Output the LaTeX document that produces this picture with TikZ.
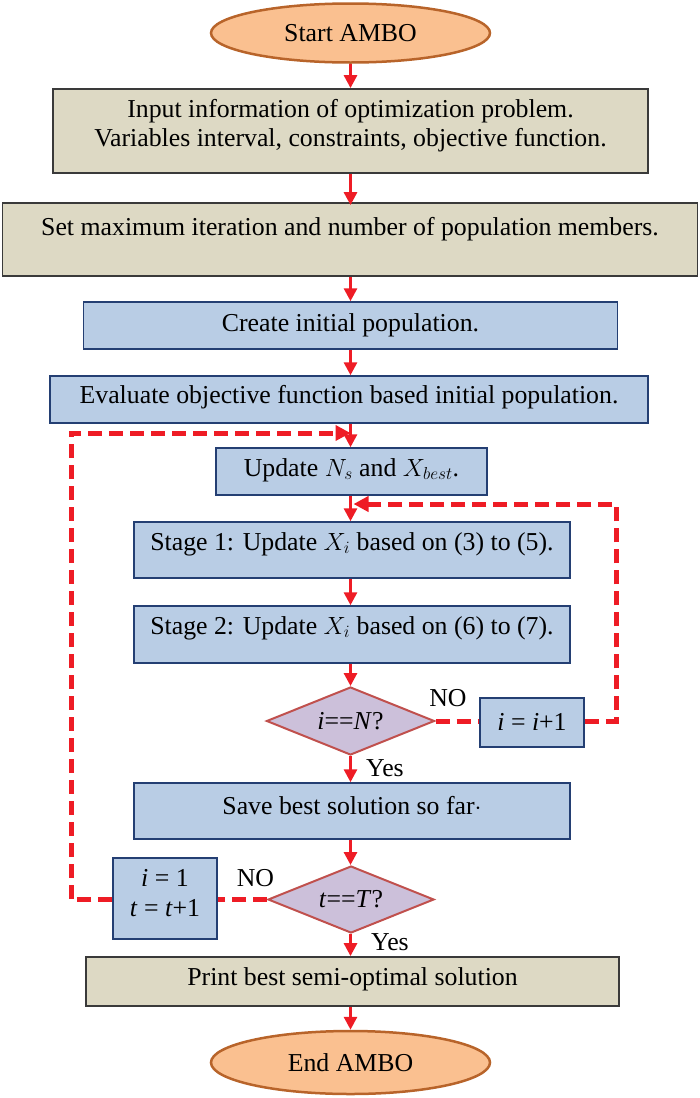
\documentclass[tikz,border=0pt]{standalone}
\usepackage{fontspec}
\setmainfont{Liberation Serif}
\usetikzlibrary{shapes.geometric,arrows.meta}
\definecolor{arrowred}{HTML}{EE1C25}
\definecolor{grayfill}{HTML}{DDD9C4}
\definecolor{grayedge}{HTML}{3A3A3A}
\definecolor{bluefill}{HTML}{B9CDE5}
\definecolor{blueedge}{HTML}{243F73}
\definecolor{startfill}{HTML}{FAC090}
\definecolor{startedge}{HTML}{B8642A}
\definecolor{diafill}{HTML}{CCC0DA}
\definecolor{diaedge}{HTML}{C0504D}
\begin{document}
\begin{tikzpicture}[x=1pt,y=-1pt,
  font=\fontsize{25.8}{29.4}\selectfont,
  terminal/.style={ellipse, draw=startedge, fill=startfill, line width=2.5pt, inner sep=0pt},
  graybox/.style={rectangle, draw=grayedge, fill=grayfill, line width=1.8pt, inner xsep=0pt, inner ysep=0pt},
  bluebox/.style={rectangle, draw=blueedge, fill=bluefill, line width=1.5pt, inner xsep=0pt, inner ysep=0pt},
  decision/.style={diamond, draw=diaedge, fill=diafill, line width=2pt, inner sep=0pt, aspect=2.5},
  th/.style 2 args={text height=#1pt, text depth=#2pt},
  flow/.style={draw=arrowred, line width=3pt, -{Triangle[length=13pt,width=13pt]}},
  loopline/.style={draw=arrowred, line width=5pt, dash pattern=on 14pt off 7pt},
  looparrow/.style={loopline, -{Triangle[length=15pt,width=15pt]}},
  lbl/.style={anchor=base, inner sep=0pt}
]
\useasboundingbox (0,0) rectangle (700,1098);

% main column
\node[terminal, minimum width=279pt, minimum height=59pt] (start) at (350.5,33) {Start AMBO};
\node[graybox, minimum width=595pt, minimum height=84pt] (input) at (350.5,131) {};
\node[lbl] (in1) at (350.5,117.3) {Input information of optimization problem.};
\node[lbl] (in2) at (350.5,146.7) {Variables interval, constraints, objective function.};
\node[graybox, minimum width=695pt, th={32}{41}] (set) at (350,239.5) {Set maximum iteration and number of population members.};
\node[bluebox, minimum width=534pt, th={29}{18}] (create) at (350.5,325.5) {Create initial population.};
\node[bluebox, minimum width=598pt, th={27}{20}] (eval) at (349,399.5) {Evaluate objective function based initial population.};
\node[bluebox, minimum width=271pt, th={28}{19}] (update) at (351.5,471.5) {Update $N_s$ and $X_{best}$.};
\node[bluebox, minimum width=436pt, th={28}{28}] (stage1) at (352,550) {Stage 1: Update $X_i$ based on (3) to (5).};
\node[bluebox, minimum width=436pt, th={28}{29}] (stage2) at (352,634.5) {Stage 2: Update $X_i$ based on (6) to (7).};
\node[decision, minimum width=168pt, minimum height=68pt] (d1) at (350.5,721) {\textit{i}==\textit{N}?};
\node[bluebox, minimum width=104pt, th={32}{17}] (iinc) at (532,722.5) {\textit{i} = \textit{i}+1};
\node[bluebox, minimum width=436pt, th={31}{25}] (save) at (352,811) {Save best solution so far$\cdot$};
\node[decision, minimum width=166pt, minimum height=67pt] (d2) at (351,899.5) {\textit{t}==\textit{T}?};
\node[bluebox, minimum width=104pt, minimum height=81pt] (reset) at (165,898.5) {};
\node[lbl] (r1) at (165,886.7) {\textit{i} = 1};
\node[lbl] (r2) at (165,916.7) {\textit{t} = \textit{t}+1};
\node[graybox, minimum width=533pt, th={28}{21}] (print) at (352.5,981.5) {Print best semi-optimal solution};
\node[terminal, minimum width=279pt, minimum height=63pt] (end) at (350.5,1062.5) {End AMBO};

% labels
\node[lbl] (no1) at (448,706) {NO};
\node[lbl] (yes1) at (385,776) {Yes};
\node[lbl] (no2) at (255.5,886.7) {NO};
\node[lbl] (yes2) at (390,950) {Yes};

% solid flow arrows
\coordinate (cx) at (350.5,0);
\draw[flow] (start.south -| cx) -- (input.north -| cx);
\draw[flow] (input.south -| cx) -- ([yshift=-3pt]set.north -| cx);
\draw[flow] (set.south -| cx) -- (create.north -| cx);
\draw[flow] (create.south -| cx) -- (eval.north -| cx);
\draw[flow] (eval.south -| cx) -- (update.north -| cx);
\draw[flow] (update.south -| cx) -- (stage1.north -| cx);
\draw[flow] (stage1.south -| cx) -- (stage2.north -| cx);
\draw[flow] (stage2.south -| cx) -- (d1.north);
\draw[flow] (d1.south) -- (save.north -| cx);
\draw[flow] (save.south -| cx) -- (d2.north -| cx);
\draw[flow] (d2.south -| cx) -- (print.north -| cx);
\draw[flow] (print.south -| cx) -- (end.north);

% dashed loops
\coordinate (rt) at (616,504);
\coordinate (lt) at (71,433);
\draw[loopline] (d1.east) -- (iinc.west |- d1.east);
\draw[looparrow] (iinc.east |- d1.east) -| (rt) -- ([xshift=3pt]rt -| cx);
\draw[loopline] (d2.west) -- (reset.east |- d2.west);
\draw[looparrow] (reset.west |- d2.west) -| (lt) -- (lt -| cx);
\end{tikzpicture}
\end{document}
